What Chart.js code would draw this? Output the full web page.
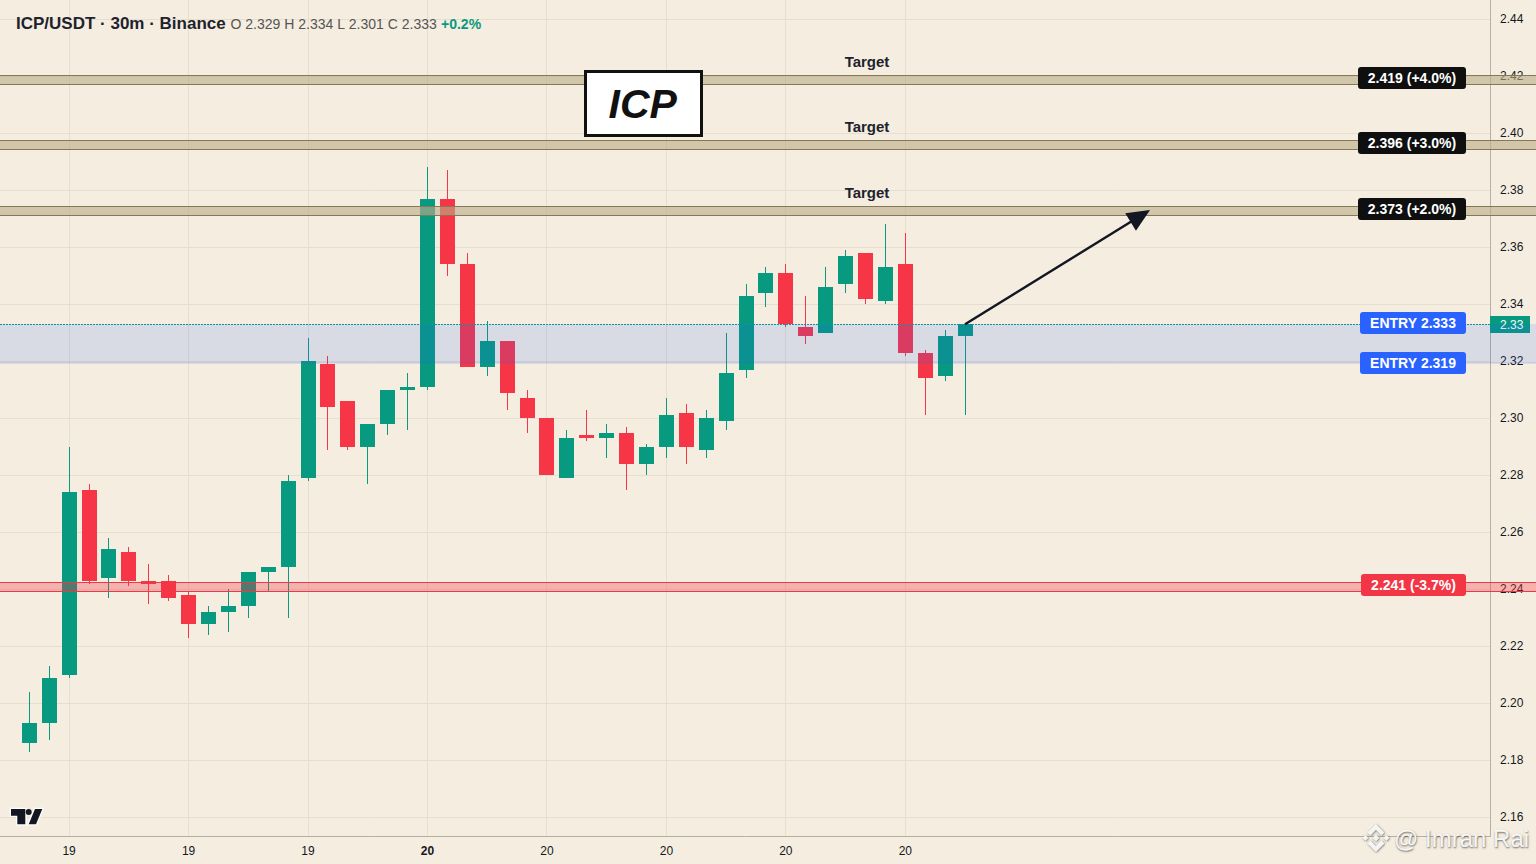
<!DOCTYPE html>
<html>
<head>
<meta charset="utf-8">
<title>ICP/USDT</title>
<script src="https://cdn.jsdelivr.net/npm/chart.js@4/dist/chart.umd.min.js"></script>
<style>
    html, body { margin: 0; padding: 0; background: #f5eee0; overflow: hidden; }
    canvas { display: block; }
</style>
</head>
<body>
<canvas id="chart" width="1536" height="864"></canvas>
<script>
//--- Data
var opens  = [2.186, 2.193, 2.210, 2.275, 2.244, 2.253, 2.243, 2.243, 2.238, 2.228, 2.232, 2.234, 2.246, 2.248, 2.279, 2.319, 2.306, 2.290, 2.298, 2.310, 2.311, 2.377, 2.354, 2.318, 2.327, 2.307, 2.300, 2.279, 2.294, 2.293, 2.295, 2.284, 2.290, 2.302, 2.289, 2.299, 2.317, 2.344, 2.351, 2.332, 2.330, 2.347, 2.358, 2.341, 2.354, 2.323, 2.315, 2.329];
var highs  = [2.204, 2.213, 2.290, 2.277, 2.258, 2.255, 2.249, 2.245, 2.239, 2.234, 2.240, 2.246, 2.248, 2.280, 2.328, 2.322, 2.306, 2.298, 2.310, 2.316, 2.388, 2.387, 2.358, 2.334, 2.327, 2.310, 2.300, 2.296, 2.303, 2.298, 2.297, 2.291, 2.307, 2.305, 2.303, 2.330, 2.347, 2.353, 2.354, 2.343, 2.353, 2.359, 2.358, 2.368, 2.365, 2.324, 2.331, 2.333];
var lows   = [2.183, 2.187, 2.209, 2.242, 2.237, 2.241, 2.235, 2.236, 2.223, 2.224, 2.225, 2.230, 2.239, 2.230, 2.278, 2.289, 2.289, 2.277, 2.294, 2.296, 2.310, 2.350, 2.318, 2.315, 2.303, 2.295, 2.280, 2.279, 2.292, 2.286, 2.275, 2.280, 2.286, 2.284, 2.286, 2.296, 2.314, 2.339, 2.332, 2.326, 2.330, 2.344, 2.340, 2.340, 2.322, 2.301, 2.313, 2.301];
var closes = [2.193, 2.209, 2.274, 2.243, 2.254, 2.243, 2.242, 2.237, 2.228, 2.232, 2.234, 2.246, 2.248, 2.278, 2.320, 2.304, 2.290, 2.298, 2.310, 2.311, 2.377, 2.354, 2.318, 2.327, 2.309, 2.300, 2.280, 2.293, 2.293, 2.295, 2.284, 2.290, 2.301, 2.290, 2.300, 2.316, 2.343, 2.351, 2.333, 2.329, 2.346, 2.357, 2.342, 2.353, 2.323, 2.314, 2.329, 2.333];

var yTicks = [2.16, 2.18, 2.20, 2.22, 2.24, 2.26, 2.28, 2.30, 2.32, 2.34, 2.36, 2.38, 2.40, 2.42, 2.44];
var xTickIndexes = [2, 8, 14, 20, 26, 32, 38, 44];
var xTickLabels = ['19', '19', '19', '20', '20', '20', '20', '20'];

var targetBands = [[2.4170, 2.4203], [2.3942, 2.3976], [2.3710, 2.3744]];
var targetLabels = ['2.419 (+4.0%)', '2.396 (+3.0%)', '2.373 (+2.0%)'];
var entryBand = [2.3190, 2.3330];
var entryLabels = ['ENTRY 2.333', 'ENTRY 2.319'];
var stopBand = [2.2391, 2.2425];
var stopLabel = '2.241 (-3.7%)';
var arrowFrom = [47, 2.333];
var arrowTo = [56.29, 2.3731];

//--- Colours
var BACKGROUND = '#f5eee0';
var GREEN = '#089981';
var RED = '#F63646';
var FONT = '"Liberation Sans", Arial, sans-serif';

var candleColors = opens.map(function (o, i) { return closes[i] >= o ? GREEN : RED; });

function badge(ctx, left, right, top, bottom, color, text) {
    ctx.fillStyle = color;
    ctx.beginPath();
    ctx.roundRect(left, top, right - left, bottom - top, 3);
    ctx.fill();
    ctx.fillStyle = '#ffffff';
    ctx.font = 'bold 14px ' + FONT;
    ctx.textAlign = 'center';
    ctx.textBaseline = 'middle';
    ctx.fillText(text, (left + right) / 2, (top + bottom) / 2 + 1.5);
}

function band(ctx, y, values, fill, line, width) {
    var top = Math.round(y.getPixelForValue(values[1]));
    var bottom = Math.round(y.getPixelForValue(values[0]));
    ctx.fillStyle = fill;
    ctx.fillRect(0, top, 1536, bottom - top);
    if (line) {
        ctx.strokeStyle = line;
        ctx.lineWidth = width;
        ctx.beginPath();
        ctx.moveTo(0, top + 0.5);
        ctx.lineTo(1536, top + 0.5);
        ctx.moveTo(0, bottom - 0.5);
        ctx.lineTo(1536, bottom - 0.5);
        ctx.stroke();
    }
}

function drawLogo(ctx) {
    ctx.save();
    ctx.fillStyle = '#131722';
    ctx.strokeStyle = '#ffffff';
    ctx.lineWidth = 2.5;
    ctx.lineJoin = 'miter';
    var parts = [
        [[11, 809], [25.3, 809], [25.3, 824.3], [17.3, 824.3], [17.3, 815.7], [11, 815.7]],
        [[35, 809], [42.3, 809], [36, 824.3], [28.7, 824.3]]
    ];
    parts.forEach(function (p) {
        ctx.beginPath();
        p.forEach(function (pt, i) { if (i) ctx.lineTo(pt[0], pt[1]); else ctx.moveTo(pt[0], pt[1]); });
        ctx.closePath();
        ctx.stroke();
    });
    parts.forEach(function (p) {
        ctx.beginPath();
        p.forEach(function (pt, i) { if (i) ctx.lineTo(pt[0], pt[1]); else ctx.moveTo(pt[0], pt[1]); });
        ctx.closePath();
        ctx.fill();
    });
    ctx.beginPath();
    ctx.arc(28.7, 812, 3, 0, Math.PI * 2);
    ctx.fill();
    ctx.restore();
}

function drawWatermark(ctx) {
    ctx.save();
    ctx.shadowColor = 'rgba(60,60,60,0.85)';
    ctx.shadowBlur = 2;
    ctx.shadowOffsetX = 0.5;
    ctx.shadowOffsetY = 0.5;
    ctx.fillStyle = 'rgba(255,255,255,0.92)';
    ctx.font = '24px ' + FONT;
    ctx.textAlign = 'left';
    ctx.textBaseline = 'alphabetic';
    ctx.fillText('@ Imran Rai', 1394, 847);
    // binance mark
    var cx = 1376, cy = 838;
    function diamond(x, y, r) {
        ctx.beginPath();
        ctx.moveTo(x, y - r);
        ctx.lineTo(x + r, y);
        ctx.lineTo(x, y + r);
        ctx.lineTo(x - r, y);
        ctx.closePath();
        ctx.fill();
    }
    function chevron(dir) {
        ctx.beginPath();
        ctx.moveTo(cx, cy + dir * 14);
        ctx.lineTo(cx + 8.5, cy + dir * 5.5);
        ctx.lineTo(cx + 5.5, cy + dir * 2.5);
        ctx.lineTo(cx, cy + dir * 8);
        ctx.lineTo(cx - 5.5, cy + dir * 2.5);
        ctx.lineTo(cx - 8.5, cy + dir * 5.5);
        ctx.closePath();
        ctx.fill();
    }
    chevron(-1);
    chevron(1);
    diamond(cx, cy, 3.4);
    diamond(cx - 10.5, cy, 3);
    diamond(cx + 10.5, cy, 3);
    ctx.restore();
}

//--- opaque canvas needs its own background
var paintBackground = {
    id: 'paintBackground',
    beforeDraw: function (chart) {
        chart.ctx.fillStyle = BACKGROUND;
        chart.ctx.fillRect(0, 0, chart.width, chart.height);
    }
};

//--- snap the bars to whole pixels so the candles stay crisp
var snapBars = {
    id: 'snapBars',
    beforeDatasetsDraw: function (chart) {
        chart.data.datasets.forEach(function (ds, i) {
            chart.getDatasetMeta(i).data.forEach(function (bar) {
                bar.x = Math.floor(bar.x) + 0.5;
                bar.y = Math.round(bar.y);
                bar.base = Math.round(bar.base);
            });
        });
    }
};

//--- zones, badges, arrow and the header go on top of everything
var overlays = {
    id: 'overlays',
    afterDraw: function (chart) {
        var ctx = chart.ctx;
        var x = chart.scales.x;
        var y = chart.scales.y;
        ctx.save();

        // last price tag, the entry zone tints its lower half
        var lastY = y.getPixelForValue(closes[closes.length - 1]);
        ctx.fillStyle = GREEN;
        ctx.fillRect(1490, Math.round(lastY) - 8, 40, 17);
        ctx.fillStyle = '#ffffff';
        ctx.font = '12px ' + FONT;
        ctx.textAlign = 'left';
        ctx.textBaseline = 'middle';
        ctx.fillText('2.33', 1500, lastY + 1);

        band(ctx, y, entryBand, 'rgba(41,98,255,0.14)', null, 0);
        var entryBottom = Math.round(y.getPixelForValue(entryBand[0])) - 2;
        ctx.fillStyle = 'rgba(90,90,130,0.12)';
        ctx.fillRect(0, entryBottom, 1536, 1);

        ctx.strokeStyle = '#0a98a0';
        ctx.lineWidth = 1;
        ctx.setLineDash([2, 1]);
        ctx.beginPath();
        ctx.moveTo(0, Math.round(lastY) + 0.5);
        ctx.lineTo(1490, Math.round(lastY) + 0.5);
        ctx.stroke();
        ctx.setLineDash([]);

        targetBands.forEach(function (b) {
            band(ctx, y, b, 'rgba(188,173,136,0.62)', '#857856', 1);
        });
        band(ctx, y, stopBand, 'rgba(242,54,69,0.32)', '#F23645', 1);

        // arrow
        var ax = x.getPixelForValue(arrowFrom[0]);
        var ay = y.getPixelForValue(arrowFrom[1]);
        var bx = x.getPixelForValue(arrowTo[0]);
        var by = y.getPixelForValue(arrowTo[1]);
        var angle = Math.atan2(by - ay, bx - ax);
        var headLen = 25;
        ctx.strokeStyle = '#131722';
        ctx.lineWidth = 2.5;
        ctx.beginPath();
        ctx.moveTo(ax, ay);
        ctx.lineTo(bx - Math.cos(angle) * (headLen - 3), by - Math.sin(angle) * (headLen - 3));
        ctx.stroke();
        ctx.fillStyle = '#131722';
        ctx.beginPath();
        ctx.moveTo(bx, by);
        ctx.lineTo(bx - headLen * Math.cos(angle - 0.42), by - headLen * Math.sin(angle - 0.42));
        ctx.lineTo(bx - headLen * Math.cos(angle + 0.42), by - headLen * Math.sin(angle + 0.42));
        ctx.closePath();
        ctx.fill();

        // target captions
        ctx.fillStyle = '#1e222d';
        ctx.font = 'bold 15px ' + FONT;
        ctx.textAlign = 'center';
        ctx.textBaseline = 'middle';
        ctx.fillText('Target', 867, 62.5);
        ctx.fillText('Target', 867, 127.5);
        ctx.fillText('Target', 867, 193.5);

        // badges
        badge(ctx, 1358, 1466, 67, 89, '#0f0f0f', targetLabels[0]);
        badge(ctx, 1358, 1466, 132, 154, '#0f0f0f', targetLabels[1]);
        badge(ctx, 1358, 1466, 198, 220, '#0f0f0f', targetLabels[2]);
        badge(ctx, 1360, 1466, 312, 334, '#2962FF', entryLabels[0]);
        badge(ctx, 1360, 1466, 352, 374, '#2962FF', entryLabels[1]);
        badge(ctx, 1361, 1466, 574, 596, '#F23645', stopLabel);

        // ICP box
        ctx.fillStyle = '#ffffff';
        ctx.fillRect(584, 70, 119, 67);
        ctx.strokeStyle = '#111111';
        ctx.lineWidth = 3;
        ctx.strokeRect(585.5, 71.5, 116, 64);
        ctx.fillStyle = '#111111';
        ctx.font = 'italic bold 41px ' + FONT;
        ctx.textAlign = 'left';
        ctx.textBaseline = 'alphabetic';
        ctx.fillText('ICP', 608.5, 118);

        // header
        ctx.textBaseline = 'alphabetic';
        ctx.fillStyle = '#1e222d';
        ctx.font = 'bold 17px ' + FONT;
        ctx.fillText('ICP/USDT · 30m · Binance', 16, 29);
        ctx.fillStyle = '#555555';
        ctx.font = '14px ' + FONT;
        ctx.fillText('O 2.329 H 2.334 L 2.301 C 2.333', 230.5, 29);
        ctx.fillStyle = GREEN;
        ctx.font = 'bold 14px ' + FONT;
        ctx.fillText('+0.2%', 441, 29);

        drawLogo(ctx);
        drawWatermark(ctx);
        ctx.restore();
    }
};

var canvas = document.getElementById('chart');
canvas.getContext('2d', { alpha: false });

new Chart(canvas, {
    type: 'bar',
    plugins: [paintBackground, snapBars, overlays],
    data: {
        datasets: [
            {
                label: 'wick',
                order: 2,
                barThickness: 1,
                grouped: false,
                borderWidth: 0,
                inflateAmount: 0,
                backgroundColor: candleColors,
                data: highs.map(function (h, i) { return { x: i, y: [lows[i], h] }; })
            },
            {
                label: 'body',
                order: 1,
                barThickness: 15,
                grouped: false,
                borderWidth: 0,
                inflateAmount: 0,
                backgroundColor: candleColors,
                data: opens.map(function (o, i) { return { x: i, y: [o, closes[i]] }; })
            }
        ]
    },
    options: {
        responsive: false,
        devicePixelRatio: 1,
        animation: false,
        layout: { padding: 0 },
        plugins: { legend: { display: false }, tooltip: { enabled: false } },
        scales: {
            x: {
                type: 'linear',
                offset: false,
                min: -1.4706,
                max: 73.366,
                afterBuildTicks: function (scale) {
                    scale.ticks = xTickIndexes.map(function (v) { return { value: v }; });
                },
                afterFit: function (scale) {
                    scale.height = 28;
                    scale.paddingLeft = 0;
                    scale.paddingRight = 0;
                },
                grid: { color: '#e6dfd0', drawTicks: false, offset: false },
                border: { color: '#b5afa4' },
                ticks: {
                    autoSkip: false,
                    maxRotation: 0,
                    padding: 8,
                    color: '#131722',
                    font: function (c) {
                        return { family: 'Liberation Sans', size: 12, weight: c.index === 3 ? 'bold' : 'normal' };
                    },
                    callback: function (value, index) { return xTickLabels[index]; }
                }
            },
            y: {
                type: 'linear',
                position: 'right',
                min: 2.15344,
                max: 2.44677,
                afterBuildTicks: function (scale) {
                    scale.ticks = yTicks.map(function (v) { return { value: v }; });
                },
                afterFit: function (scale) {
                    scale.width = 46;
                    scale.paddingTop = 0;
                    scale.paddingBottom = 0;
                },
                grid: { color: '#e6dfd0', drawTicks: false },
                border: { color: '#b5afa4' },
                ticks: {
                    padding: 10,
                    color: '#131722',
                    font: { family: 'Liberation Sans', size: 12 },
                    callback: function (value) { return value.toFixed(2); }
                }
            }
        }
    }
});
</script>
</body>
</html>
